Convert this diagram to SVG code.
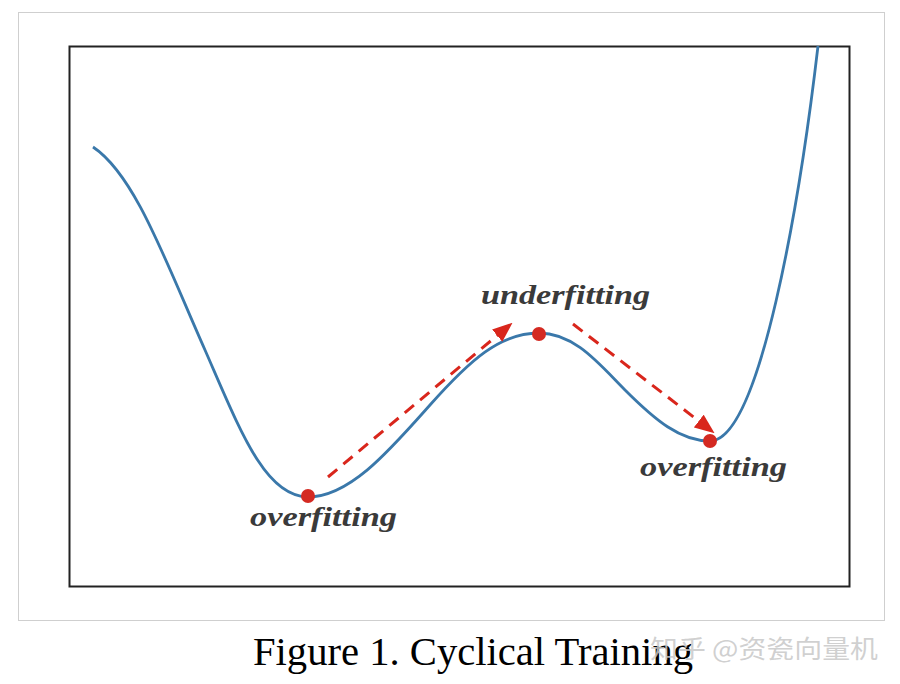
<svg xmlns="http://www.w3.org/2000/svg" width="900" height="684" viewBox="0 0 900 684">
<style>
.lbl{font-family:"Liberation Serif","Times New Roman",serif;font-weight:bold;font-style:italic;font-size:28px;fill:#3a3a3a}
.arr{stroke:#d9261c;stroke-width:3;stroke-dasharray:12,8;fill:none}
.dot{fill:#d42a22}
</style>
<defs>
<marker id="ahb" viewBox="0 0 20 16" refX="18" refY="8" markerWidth="20" markerHeight="16" orient="auto" markerUnits="userSpaceOnUse">
<path d="M0,0 L20,8 L0,16 Z" fill="#d9261c"/>
</marker>
</defs>
<rect width="900" height="684" fill="#fff"/>
<rect x="18.5" y="12.5" width="866" height="608" fill="#fff" stroke="#cfcfcf" stroke-width="1"/>
<rect x="69.5" y="46.5" width="780" height="540" fill="#fff" stroke="#222" stroke-width="2"/>
<path id="curve" d="M93,147 C135,175 165,260 205,350 C240,430 265,497 308,497 C350,497 390,450 430,405 C470,360 500,333 539,333 C575,333 600,365 625,390 C655,420 680,441 710,441 C760,441 800,200 818,46" fill="none" stroke="#3a78aa" stroke-width="2.8"/>
<g id="connectors">
<line class="arr" x1="328" y1="477" x2="511" y2="324" marker-end="url(#ahb)"/>
<line class="arr" x1="573" y1="324" x2="713" y2="432" marker-end="url(#ahb)"/>
</g>
<g id="node-overfitting-1">
<circle class="dot" cx="308" cy="496" r="7"/>
<text class="lbl" x="250" y="526" textLength="147" lengthAdjust="spacingAndGlyphs">overfitting</text>
</g>
<g id="node-underfitting">
<circle class="dot" cx="539" cy="334" r="7"/>
<text class="lbl" x="481" y="304" textLength="169" lengthAdjust="spacingAndGlyphs">underfitting</text>
</g>
<g id="node-overfitting-2">
<circle class="dot" cx="710" cy="441" r="7"/>
<text class="lbl" x="640" y="476" textLength="147" lengthAdjust="spacingAndGlyphs">overfitting</text>
</g>
<text x="253" y="665" font-family="Liberation Serif,'Times New Roman',serif" font-size="40" fill="#000" textLength="440" lengthAdjust="spacingAndGlyphs">Figure 1. Cyclical Training</text>
<text x="650" y="658" font-family="'Noto Sans CJK SC',sans-serif" font-size="25" fill="#c8c8c8" fill-opacity="0.85" textLength="228" lengthAdjust="spacingAndGlyphs">知乎 @资瓷向量机</text>
</svg>
